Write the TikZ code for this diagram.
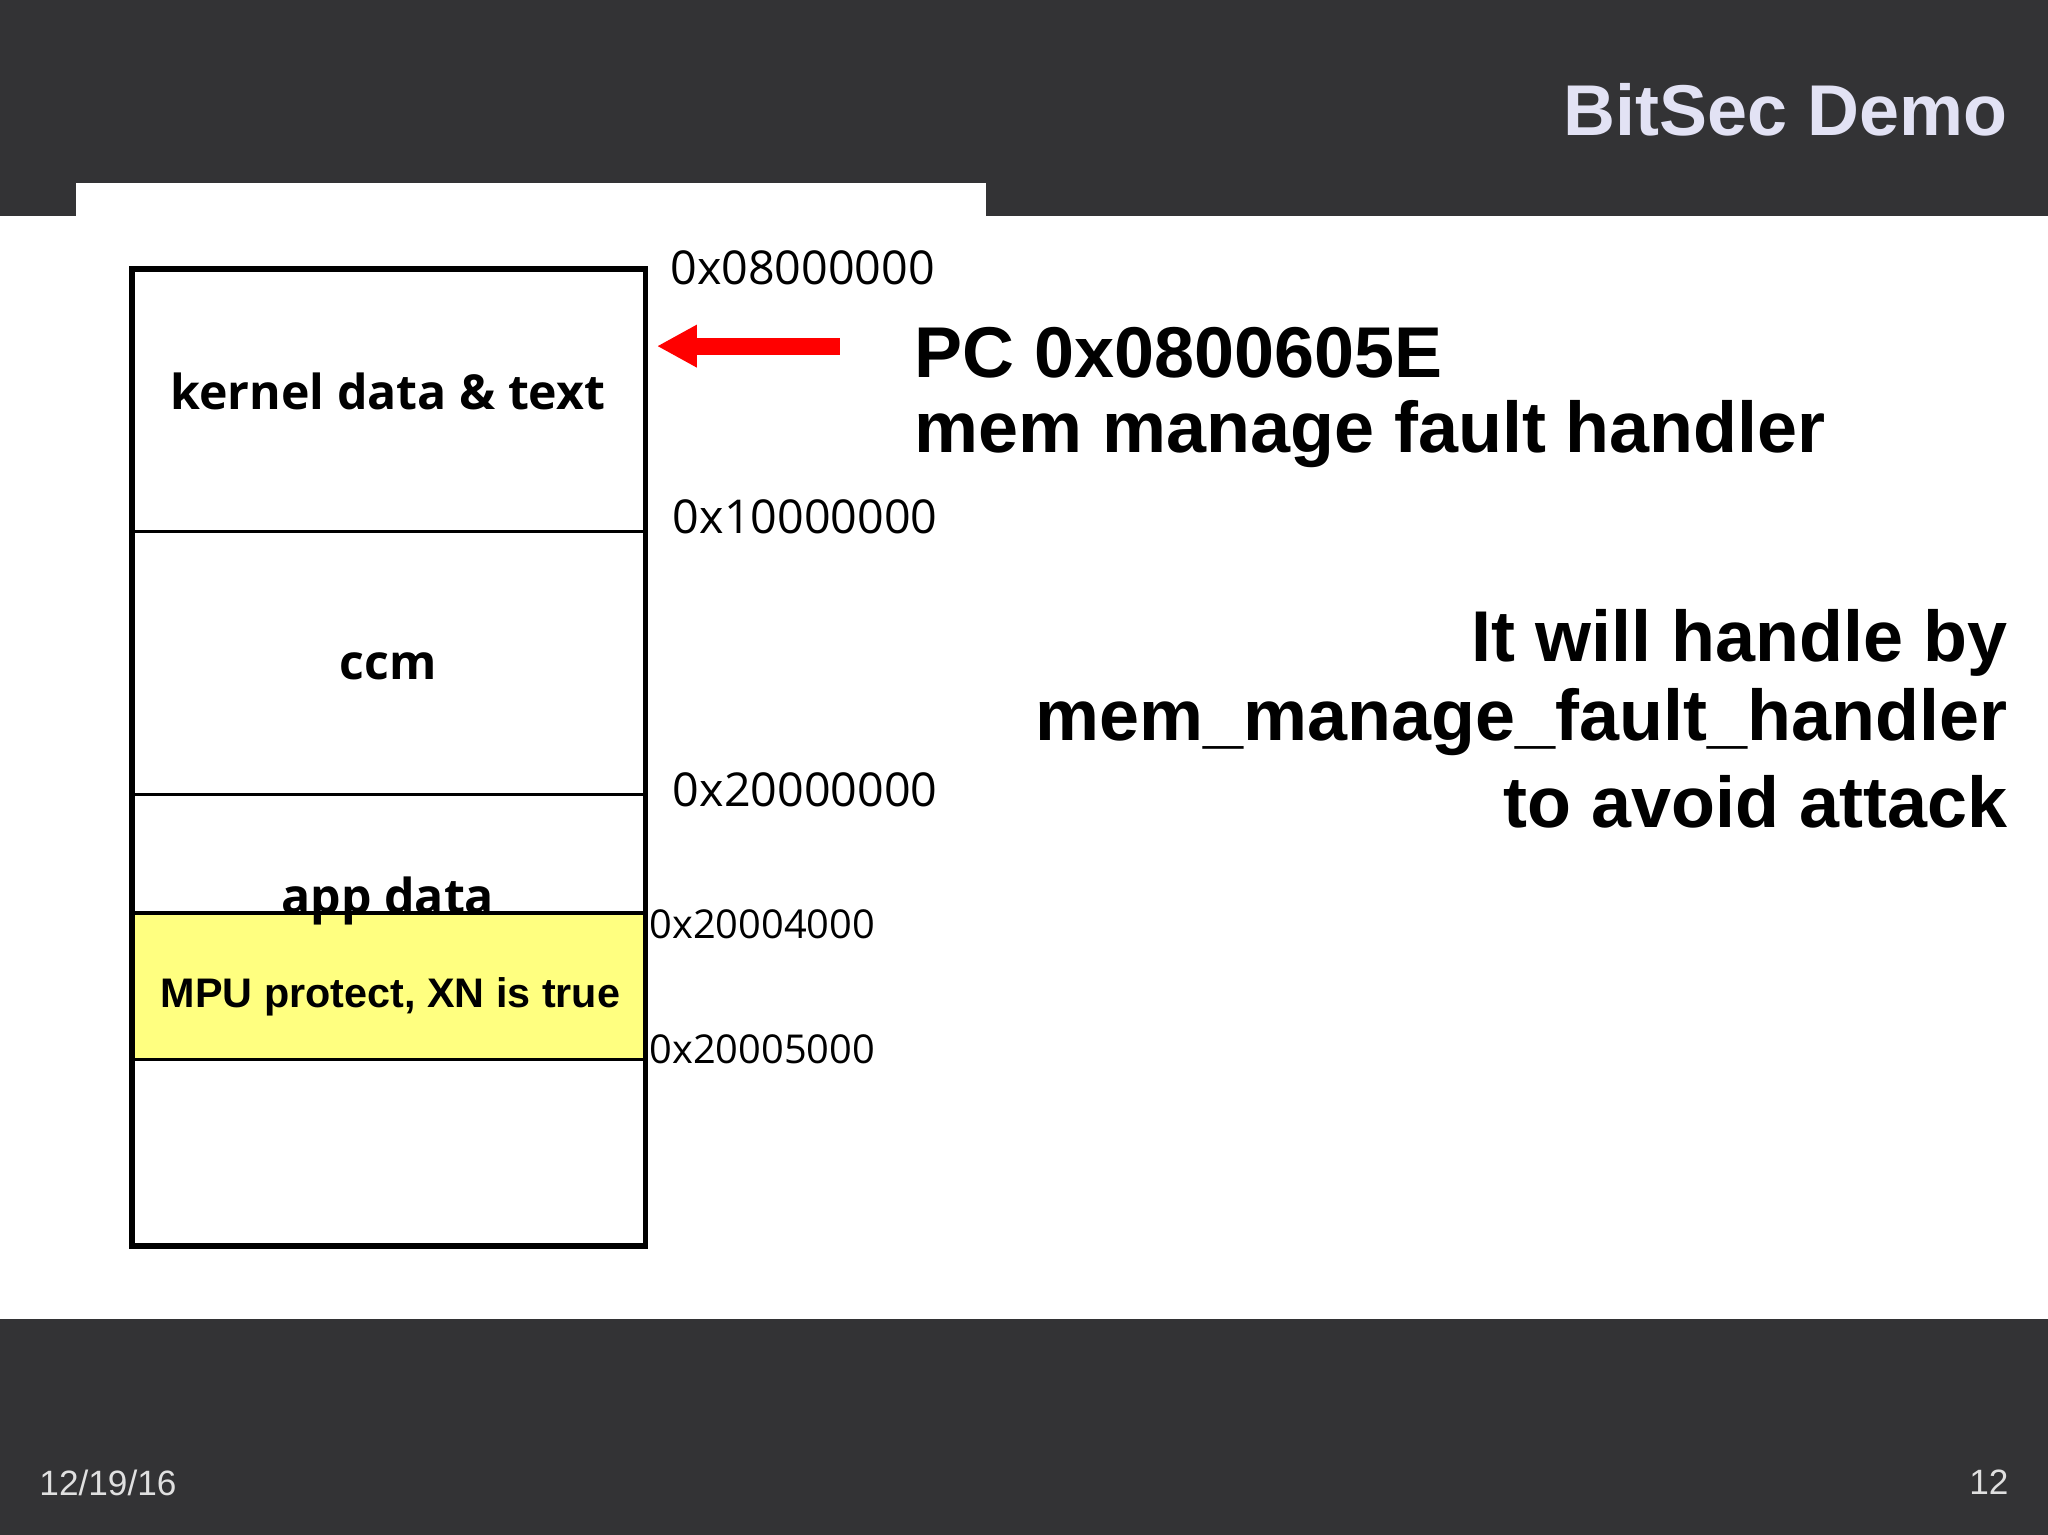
\documentclass[tikz,border=0pt]{standalone}
\usepackage{fontspec}
\setmainfont{Liberation Sans}
\newfontfamily\osans{Open Sans}
\usetikzlibrary{arrows.meta}
\definecolor{band}{HTML}{333335}
\definecolor{titlec}{HTML}{E2E2F4}
\definecolor{yel}{HTML}{FFFF80}
\tikzset{
  lbl/.style={font=\osans\bfseries\fontsize{31.5}{36}\selectfont, inner sep=0},
  addr/.style={font=\osans\fontsize{30.5}{34}\selectfont, inner sep=0, anchor=west},
  addrs/.style={font=\osans\fontsize{26}{30}\selectfont, inner sep=0, anchor=west},
  big/.style={font=\bfseries\fontsize{47}{56}\selectfont, inner sep=0},
}
\begin{document}
\begin{tikzpicture}[x=0.03cm,y=-0.03cm]
\useasboundingbox (0,0) rectangle (1568,1175);
\fill[white] (0,0) rectangle (1568,1175);
\fill[band] (0,0) rectangle (1568,165);
\fill[band] (0,1010) rectangle (1568,1175);
\fill[white] (58,140) rectangle (755,166);
\node[big, text=titlec, anchor=east] (title) at (1537,84) {BitSec Demo};
% memory map
\fill[yel] (101,699) rectangle (494,811);
\draw[line width=2pt] (101,407) -- (494,407) (101,608) -- (494,608) (101,699) -- (494,699) (101,811) -- (494,811);
\draw[line width=3.5pt] (101,206) rectangle (494,954);
\node[lbl] (k) at (297,300) {kernel data \& text};
\node[lbl] (c) at (297,510) {ccm};
\node[lbl] (a) at (297,690) {app data};
\node[font=\bfseries\fontsize{27}{32}\selectfont, inner sep=0] (m) at (299,763) {MPU protect, XN is true};
\node[addr] (a1) at (513,205) {0x08000000};
\node[addr] (a2) at (515,396) {0x10000000};
\node[addr] (a3) at (515,605) {0x20000000};
\node[addrs] (a4) at (497,708) {0x20004000};
\node[addrs] (a5) at (497,803) {0x20005000};
\coordinate (as) at (643,265);
\coordinate (ae) at (503,265);
\draw[red, line width=11pt, -{Triangle[length=26pt,width=26pt]}] (as) -- (ae);
\node[big, anchor=west] (pc) at (700,270) {PC 0x0800605E};
\node[big, anchor=west] (mm) at (700,332) {mem manage fault handler};
\node[big, anchor=east] (r1) at (1537,492) {It will handle by};
\node[big, anchor=east] (r2) at (1537,553) {mem\_manage\_fault\_handler};
\node[big, anchor=east] (r3) at (1537,614) {to avoid attack};
\node[font=\fontsize{23}{28}\selectfont, text=white!88!black, anchor=west, inner sep=0] (d) at (30,1135) {12/19/16};
\node[font=\fontsize{23}{28}\selectfont, text=white!88!black, anchor=east, inner sep=0] (p) at (1538,1135) {12};
\end{tikzpicture}
\end{document}
